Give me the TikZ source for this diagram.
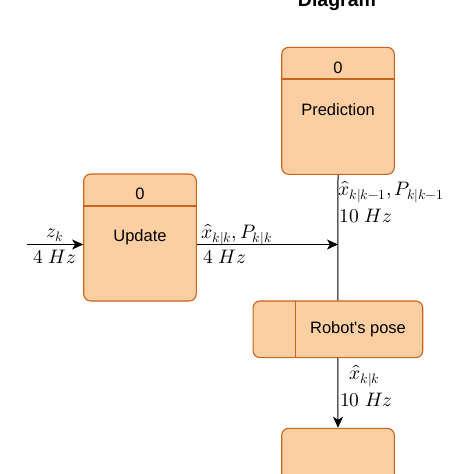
\documentclass[tikz,border=0pt]{standalone}
\usepackage{fontspec}
\setmainfont{Liberation Sans}
\usepackage{unicode-math}
\setmathfont{Latin Modern Math}
\usetikzlibrary{arrows.meta}
\definecolor{boxfill}{HTML}{FCCFA2}
\definecolor{boxdraw}{HTML}{C8641E}
\tikzset{
  proc/.style={draw=boxdraw, fill=boxfill, line width=1.1pt, rounded corners=7pt, inner sep=0pt},
  divider/.style={draw=boxdraw, line width=1.1pt},
  lbl/.style={font=\fontsize{16.5}{18}\selectfont, inner sep=0pt},
  mlbl/.style={font=\fontsize{19.5}{22}\selectfont, inner sep=0pt, anchor=base west},
  flow/.style={line width=1pt, -{Stealth[length=11pt,width=10pt,inset=3pt]}},
  plain/.style={line width=1pt}
}
\begin{document}
\begin{tikzpicture}[x=1pt,y=-1pt]
\useasboundingbox (0,0) rectangle (474,474);
% title
\node[font=\fontsize{19.5}{22}\selectfont\bfseries, anchor=base] (title) at (337,6) {Diagram};
% Prediction
\node[proc, minimum width=112.6pt, minimum height=127pt] (pred) at (338,110.8) {};
\draw[divider] (281.7,79) -- (394.3,79);
\node[lbl] (predn) at (338,68) {0};
\node[lbl] (predt) at (338,110) {Prediction};
% Update
\node[proc, minimum width=112.6pt, minimum height=127pt] (upd) at (140,237.5) {};
\draw[divider] (83.7,206) -- (196.3,206);
\node[lbl] (updn) at (140,194) {0};
\node[lbl] (updt) at (140,237) {Update};
% Robot's pose
\node[proc, minimum width=169.7pt, minimum height=56.7pt] (pose) at (337.9,329.3) {};
\draw[divider] (295.3,301) -- (295.3,357.7);
\node[lbl] (poset) at (358,329) {Robot\textquotesingle s pose};
% bottom box
\node[proc, minimum width=112.6pt, minimum height=127pt] (out) at (338,491.8) {};
% connectors
\coordinate (join) at (338,244.5);
\coordinate (inp) at (27,244.5);
\draw[plain] (pred.south) -- (pose.north);
\draw[flow] (upd.east |- join) -- (join);
\draw[flow] (inp) -- (upd.west |- inp);
\draw[flow] (pose.south) -- (out.north);
% labels
\node[mlbl] (l1) at (338.5,195) {$\hat{x}_{k|k-1}, P_{k|k-1}$};
\node[mlbl] (l2) at (339.5,222) {$10\ Hz$};
\node[mlbl] (l3) at (201.5,238) {$\hat{x}_{k|k}, P_{k|k}$};
\node[mlbl] (l4) at (203,263) {$4\ Hz$};
\node[mlbl] (l5) at (46.5,237) {$z_k$};
\node[mlbl] (l6) at (33,263) {$4\ Hz$};
\node[mlbl] (l7) at (349.5,379) {$\hat{x}_{k|k}$};
\node[mlbl] (l8) at (340,406) {$10\ Hz$};
\end{tikzpicture}
\end{document}
